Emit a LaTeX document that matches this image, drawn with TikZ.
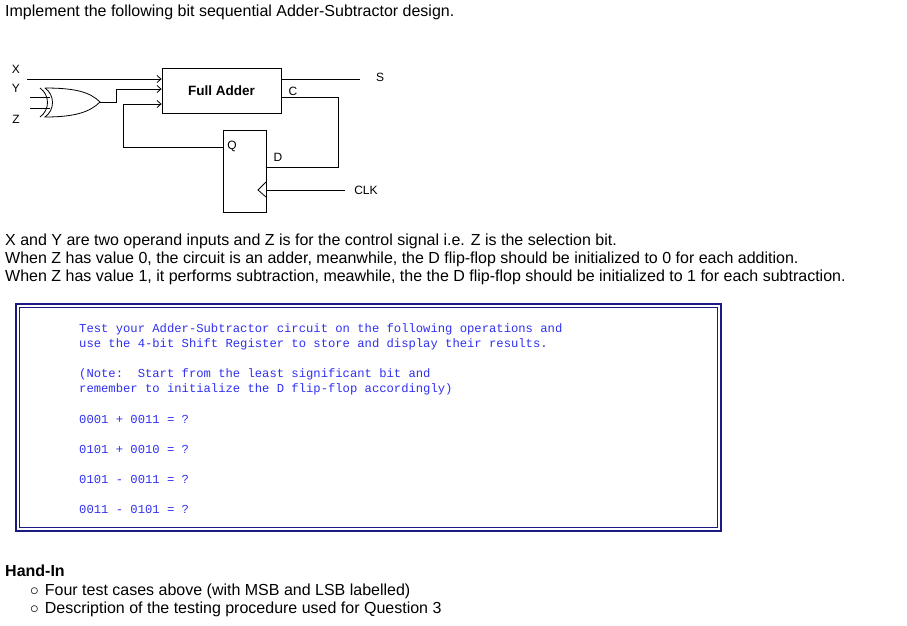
\documentclass[tikz,border=0pt]{standalone}
\usepackage{fontspec}
\setmainfont{Liberation Sans}
\newfontfamily\monof{Liberation Mono}
\usetikzlibrary{arrows.meta}
\definecolor{navy}{HTML}{1A1A80}
\definecolor{codeblue}{HTML}{3030F0}
\begin{document}
\begin{tikzpicture}[x=1pt,y=-1pt,
  wire/.style={line width=0.8pt},
  inarrow/.style={wire,-{Straight Barb[length=4pt,width=7pt]}},
  para/.style={anchor=west,inner sep=0,text height=11.5pt,text depth=3pt,font=\fontsize{16}{18}\selectfont},
  lbl/.style={anchor=center,inner sep=0,font=\fontsize{12}{13}\selectfont},
  code/.style={anchor=west,inner sep=0,text=codeblue,font=\monof\fontsize{12.2}{14}\selectfont}]
\useasboundingbox (0,0) rectangle (907,625);
% title
\node[para] (title) at (5,12) {Implement the following bit sequential Adder-Subtractor design.};
% circuit
\node[draw,wire,minimum width=119,minimum height=45,inner sep=0,font=\bfseries\fontsize{13.5}{14}\selectfont] (fa) at (221.5,90.5) {Full Adder};
\node[draw,wire,minimum width=43,minimum height=82,inner sep=0] (ff) at (244.5,171) {};
\node[lbl] (lx) at (16,69) {X};
\node[lbl] (ly) at (16,88) {Y};
\node[lbl] (lz) at (16,119) {Z};
\node[lbl] (ls) at (380,77) {S};
\node[lbl] (lc) at (293,91) {C};
\node[lbl] (lq) at (232,146) {Q};
\node[lbl] (ld) at (278,157) {D};
\node[lbl] (lclk) at (366,190) {CLK};
\coordinate (xin) at (27,79);
\coordinate (sout) at (360,79);
\coordinate (clkin) at (345,190);
\draw[inarrow] (xin) -- (fa.west |- xin);
\draw[wire] (fa.east |- sout) -- (sout);
% XOR gate
\coordinate (g) at (100,102);
\draw[wire] (45,88) .. controls (55,95) and (55,110) .. (45,117)
  .. controls (75,117) and (90,112) .. (g)
  .. controls (90,92) and (75,88) .. (45,88);
\draw[wire] (40,88) .. controls (50,95) and (50,110) .. (40,117);
\draw[wire] (30,97) -- (50,97);
\draw[wire] (30,108) -- (50,108);
\draw[inarrow] (g) -- (116,102) -- (116,89) -- (fa.west |- 0,89);
% feedback
\draw[inarrow] (ff.west |- 0,147) -- (123,147) -- (123,104) -- (fa.west |- 0,104);
\draw[wire] (fa.east |- 0,97) -- (338,97) -- (338,167) -- (ff.east |- 0,167);
\draw[wire] (clkin) -- (ff.east |- clkin);
\draw[wire] (266,182) -- (258,190) -- (266,197);
% paragraph
\node[para] (p1) at (5,241) {X and Y are two operand inputs and Z is for the control signal i.e. Z is the selection bit.};
\node[para] (p2) at (5,259) {When Z has value 0, the circuit is an adder, meanwhile, the D flip-flop should be initialized to 0 for each addition.};
\node[para] (p3) at (5,277) {When Z has value 1, it performs subtraction, meawhile, the the D flip-flop should be initialized to 1 for each subtraction.};
% box
\draw[navy,line width=1.2pt] (16,304) rectangle (721,531);
\draw[navy,line width=1pt] (19.5,307.5) rectangle (717.5,527.5);
\node[code] (c1) at (79,329) {Test your Adder-Subtractor circuit on the following operations and};
\node[code] (c2) at (79,344) {use the 4-bit Shift Register to store and display their results.};
\node[code] (c3) at (79,374) {(Note:\ \ Start from the least significant bit and};
\node[code] (c4) at (79,389) {remember to initialize the D flip-flop accordingly)};
\node[code] (c5) at (79,419) {0001 + 0011 = ?};
\node[code] (c6) at (79,449) {0101 + 0010 = ?};
\node[code] (c7) at (79,479) {0101 - 0011 = ?};
\node[code] (c8) at (79,509) {0011 - 0101 = ?};
% hand-in
\node[para,font=\bfseries\fontsize{16}{18}\selectfont] (hi) at (5,572) {Hand-In};
\node[para] (b1) at (30,591) {$\circ$\hspace{6pt}Four test cases above (with MSB and LSB labelled)};
\node[para] (b2) at (30,609) {$\circ$\hspace{6pt}Description of the testing procedure used for Question 3};
\end{tikzpicture}
\end{document}
